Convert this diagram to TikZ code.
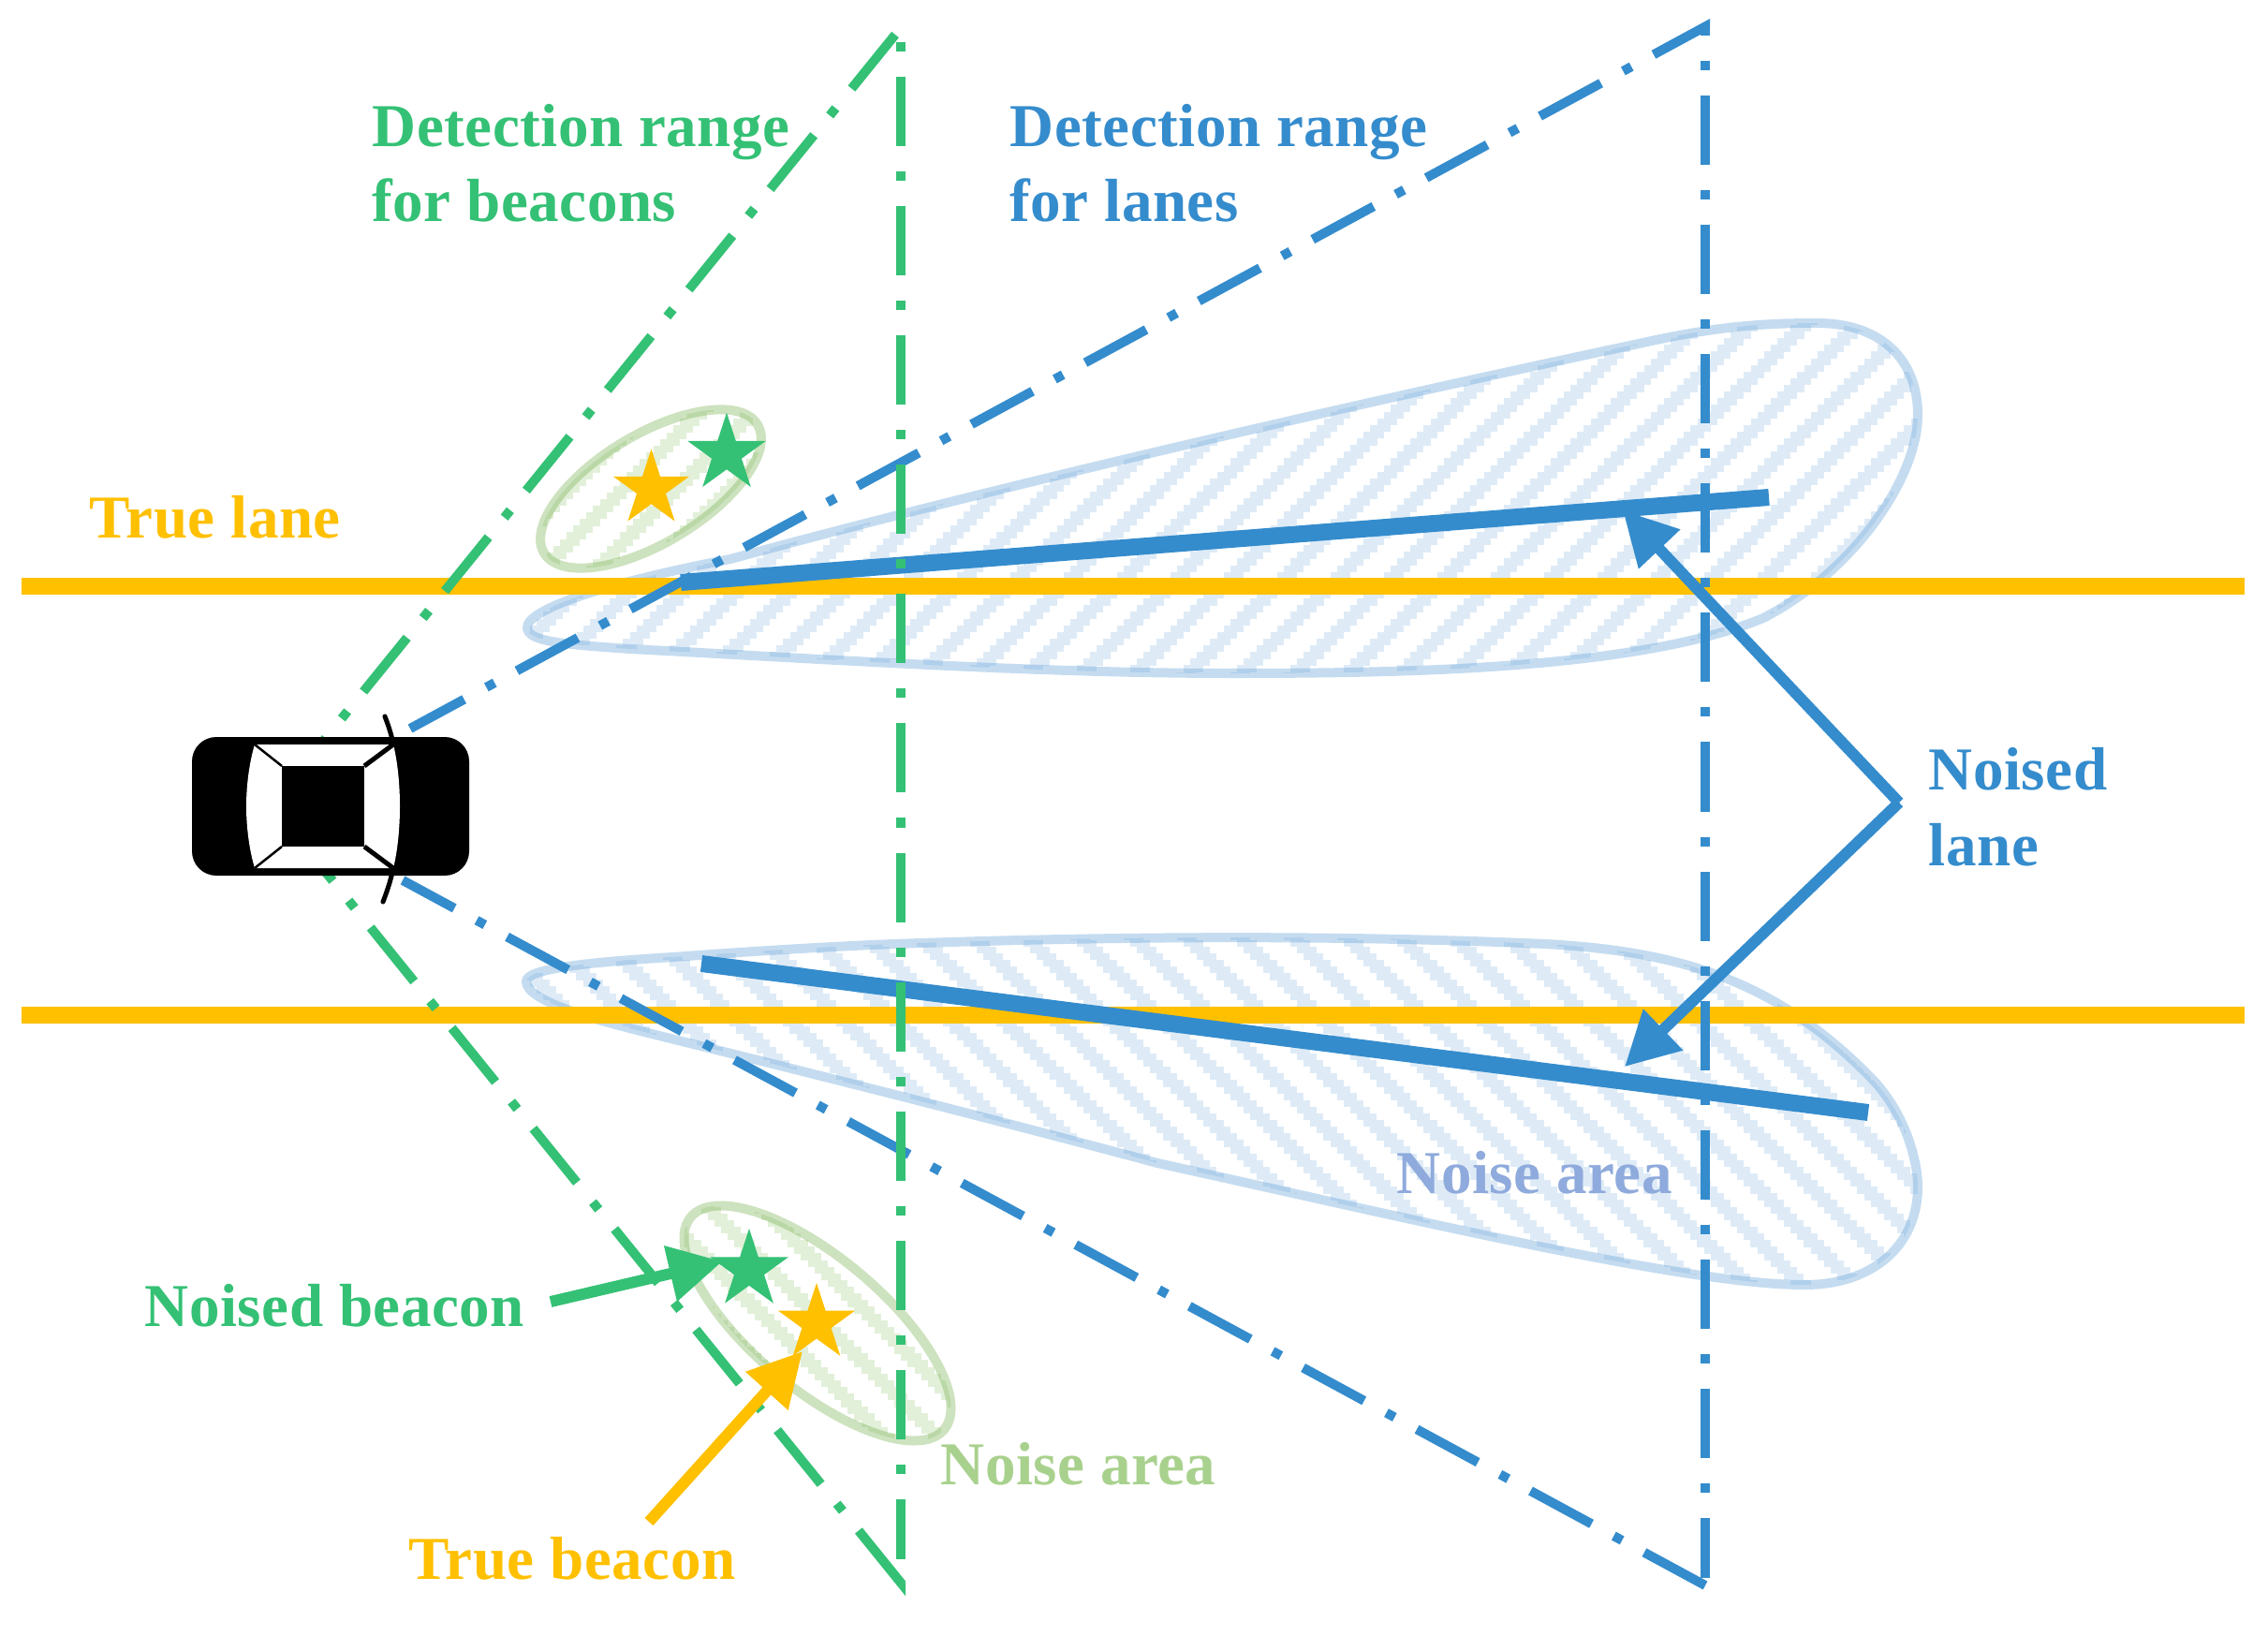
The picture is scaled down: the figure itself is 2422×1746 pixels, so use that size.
\documentclass[tikz,border=0pt]{standalone}
\usepackage{fontspec}
\setmainfont[LetterSpace=0.8]{Liberation Serif}
\usetikzlibrary{arrows.meta,shapes.geometric}
\definecolor{cgreen}{HTML}{34C175}
\definecolor{cblue}{HTML}{348CCD}
\definecolor{corange}{HTML}{FFC000}
\definecolor{hblue}{HTML}{DEEBF7}
\definecolor{hgreen}{HTML}{E2F0D9}
\definecolor{oblue}{HTML}{5B9BD5}
\definecolor{ogreen}{HTML}{70AD47}
\definecolor{tgreen}{HTML}{A9D18E}
\definecolor{tblue}{HTML}{8FAADC}
% stepped diagonal stripes: colour, x and y of one step, direction(-1 = /, 1 = \), xmin, xmax, ymin, ymax
\newcommand\hatchstripes[8]{%
  \pgfmathtruncatemacro\rowA{floor((#7-#3)/7.125)}%
  \pgfmathtruncatemacro\rowB{ceil((#8-#3)/7.125)}%
  \pgfmathtruncatemacro\colN{(#6-#5)/57+2}%
  \foreach \rr in {\rowA,...,\rowB}{%
    \pgfmathsetmacro\yy{#3+\rr*7.125}%
    \pgfmathsetmacro\xx{#5+mod(mod(#2+#4*\rr*7.125-#5,57)+57,57)-57}%
    \foreach \cc in {0,...,\colN}{%
      \fill[#1] ({\xx+\cc*57},\yy) rectangle ++(21.4,7.4);
    }%
  }%
}
\tikzset{
  dashdot/.style={line width=0.1cm,dash pattern=on 0.74cm off 0.27cm on 0.10cm off 0.27cm},
  lane/.style={line width=0.18cm,color=corange},
  noised/.style={line width=0.18cm,color=cblue},
  blobline/.style={line width=0.1cm,draw=oblue,draw opacity=0.35},
  ellline/.style={line width=0.1cm,draw=ogreen,draw opacity=0.35},
  pointer/.style={line width=0.12cm,-{Triangle[length=0.57cm,width=0.58cm]}},
  lab/.style={inner sep=0pt,anchor=base west,align=left,font=\fontsize{18.5pt}{22.8pt}\selectfont\bfseries},
  starnode/.style={star,star points=5,star point ratio=2.618,inner sep=0pt,minimum size=#1,draw=none},
}
\def\upperblob{(563,670) .. controls (563,650) and (650,622) .. (780,597)
  .. controls (1100,510) and (1500,420) .. (1750,367)
  .. controls (1830,349) and (1880,345) .. (1940,345)
  .. controls (2010,345) and (2048,385) .. (2048,443)
  .. controls (2048,510) and (1980,610) .. (1883,660)
  .. controls (1750,715) and (1500,719) .. (1313,719)
  .. controls (1100,719) and (850,702) .. (673,693)
  .. controls (600,688) and (563,685) .. (563,670) -- cycle}
\def\lowerblob{(562,1048) .. controls (562,1035) and (620,1028) .. (719,1022)
  .. controls (800,1016) and (880,1011) .. (955,1008)
  .. controls (1150,1001) and (1400,997) .. (1650,1008)
  .. controls (1800,1016) and (1900,1050) .. (2000,1153)
  .. controls (2035,1190) and (2048,1240) .. (2048,1267)
  .. controls (2048,1330) and (2000,1372) .. (1927,1372)
  .. controls (1800,1372) and (1500,1300) .. (1236,1242)
  .. controls (1050,1192) and (850,1142) .. (700,1105)
  .. controls (640,1090) and (562,1070) .. (562,1048) -- cycle}
\begin{document}
\begin{tikzpicture}[x=0.01cm,y=-0.01cm]
\useasboundingbox (0,0) rectangle (2422,1746);
\fill[white] (0,0) rectangle (2422,1746);

% noise areas, lanes
\begin{scope}
  \clip \upperblob;
  \hatchstripes{hblue}{1912.3}{461}{-1}{560}{2060}{340}{730}
\end{scope}
\draw[blobline] \upperblob;
\begin{scope}
  \clip \lowerblob;
  \hatchstripes{hblue}{1919.3}{1260}{1}{560}{2060}{995}{1380}
\end{scope}
\draw[blobline] \lowerblob;

\begin{scope}
  \clip[rotate around={31:(695,522)}] (695,522) ellipse [x radius=133,y radius=58];
  \hatchstripes{hgreen}{647.7}{525.7}{-1}{560}{830}{430}{610}
\end{scope}
\draw[ellline,rotate around={31:(695,522)}] (695,522) ellipse [x radius=133,y radius=58];
\begin{scope}
  \clip[rotate around={-40:(873,1413)}] (873,1413) ellipse [x radius=176.5,y radius=70];
  \hatchstripes{hgreen}{948}{1431}{1}{720}{1030}{1280}{1550}
\end{scope}
\draw[ellline,rotate around={-40:(873,1413)}] (873,1413) ellipse [x radius=176.5,y radius=70];

\coordinate (laneAL) at (23,626); \coordinate (laneAR) at (2397,626);
\coordinate (laneBL) at (23,1084); \coordinate (laneBR) at (2397,1084);
\draw[lane] (laneAL) -- (laneAR);
\draw[lane] (laneBL) -- (laneBR);

% blue range
\coordinate (bT) at (1831,23); \coordinate (bTs) at (438,778);
\coordinate (bB) at (1821,1693); \coordinate (bBs) at (430,940);
\begin{scope}
  \clip (0,0) rectangle (1826,1746);
  \draw[dashdot,cblue] (bT) -- (bTs);
\end{scope}
\draw[dashdot,cblue] (bB) -- (bBs);
\coordinate (bV1) at (1821,30); \coordinate (bV2) at (1821,1685);
\draw[dashdot,cblue,dash phase=0.66cm] (bV1) -- (bV2);

% noised lanes
\coordinate (nA1) at (727,622); \coordinate (nA2) at (1889,531);
\coordinate (nB1) at (749,1029); \coordinate (nB2) at (1995,1188);
\draw[noised] (nA1) -- (nA2);
\draw[noised] (nB1) -- (nB2);

% green range
\coordinate (gT) at (956,37); \coordinate (gTs) at (310,835);
\coordinate (gB) at (963.5,1692); \coordinate (gBe) at (972,1702.5); \coordinate (gBs) at (320,897);
\draw[dashdot,cgreen] (gT) -- (gTs);
\draw[dashdot,cgreen] (gB) -- (gBs);
\begin{scope}
  \clip (0,0) rectangle (967,1746);
  \draw[line width=0.1cm,cgreen] (gB) -- (gBe);
\end{scope}
\coordinate (gV1) at (962,40); \coordinate (gV2) at (962,1665);
\draw[dashdot,cgreen,dash phase=0.96cm] (gV1) -- (gV2);

% car
\draw[line width=0.05cm,line cap=round] (411,765) .. controls (416,778) and (419,788) .. (421,800);
\draw[line width=0.05cm,line cap=round] (409,963) .. controls (414,950) and (418,938) .. (421,922);
\fill[black,rounded corners=0.26cm] (205,787) rectangle (501,935);
\fill[white] (272,795) -- (420,795) .. controls (425,815) and (427,840) .. (427,861)
  .. controls (427,882) and (425,907) .. (420,927) -- (272,927)
  .. controls (266,907) and (263,882) .. (263,861) .. controls (263,840) and (266,815) .. (272,795) -- cycle;
\fill[black] (301,818) rectangle (389,904);
\draw[line width=0.025cm] (272,795) -- (301,818);
\draw[line width=0.025cm] (272,927) -- (301,904);
\draw[line width=0.05cm] (420,795) -- (389,818);
\draw[line width=0.05cm] (420,927) -- (389,904);

% stars
\node[starnode=0.852cm,fill=corange] (starA) at (695.5,522) {};
\node[starnode=0.876cm,fill=cgreen] (starB) at (776,484.5) {};
\node[starnode=0.88cm,fill=cgreen] (starC) at (800,1356) {};
\node[starnode=0.86cm,fill=corange] (starD) at (872,1413) {};

% pointers
\coordinate (nl) at (2028,857);
\coordinate (tipA) at (1733,545);
\coordinate (tipB) at (1735,1139);
\draw[pointer,cblue] (nl) -- (tipA);
\draw[pointer,cblue] (nl) -- (tipB);
\coordinate (nbS) at (588,1390); \coordinate (nbT) at (771.5,1347);
\draw[pointer,cgreen] (nbS) -- (nbT);
\coordinate (tbS) at (693,1625); \coordinate (tbT) at (857,1443);
\draw[pointer,corange] (tbS) -- (tbT);

% labels
\node[lab,text=cgreen] (l1) at (397,237) {Detection range\\for beacons};
\node[lab,text=cblue] (l2) at (1078,237) {Detection range\\for lanes};
\node[lab,text=corange] (l3) at (95,574) {True lane};
\node[lab,text=cblue] (l4) at (2059,924) {Noised\\lane};
\node[lab,text=tblue] (l5) at (1491,1274) {Noise area};
\node[lab,text=tgreen] (l6) at (1004,1585) {Noise area};
\node[lab,text=cgreen] (l7) at (154,1416) {Noised beacon};
\node[lab,text=corange] (l8) at (436,1686) {True beacon};
\end{tikzpicture}
\end{document}
